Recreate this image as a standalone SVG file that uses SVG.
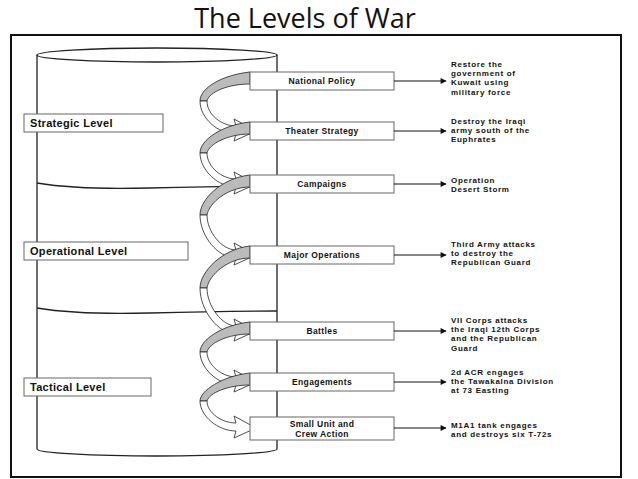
<svg xmlns="http://www.w3.org/2000/svg" width="638" height="479" viewBox="0 0 638 479">
<style>
.b{fill:#fff;stroke:#666;stroke-width:1}
.t{font-family:"Liberation Sans",Arial,sans-serif;font-weight:bold;font-size:8.5px;letter-spacing:0.4px;fill:#111;text-anchor:middle}
.l{font-family:"Liberation Sans",Arial,sans-serif;font-weight:bold;font-size:11px;letter-spacing:0.3px;fill:#111}
.r{font-family:"Liberation Sans",Arial,sans-serif;font-weight:bold;font-size:8px;letter-spacing:0.7px;fill:#111}
.c{fill:none;stroke:#222;stroke-width:1.3}
.g{fill:#bbb;stroke:#222;stroke-width:0.8}
.w{fill:#fff;stroke:#222;stroke-width:0.8}
.a{stroke:#111;stroke-width:1.2;marker-end:url(#m)}
</style>
<defs><marker id="m" viewBox="0 0 10 10" refX="9" refY="5" markerWidth="9" markerHeight="6" orient="auto" markerUnits="userSpaceOnUse"><path d="M0,0L10,5L0,10z" fill="#111"/></marker></defs>
<rect width="638" height="479" fill="#fff"/>
<text x="305" y="28" font-family="'Open Sans','Liberation Sans',sans-serif" font-size="27" text-anchor="middle" fill="#111">The Levels of War</text>
<rect x="11" y="35" width="610" height="442" fill="none" stroke="#111" stroke-width="2"/>
<g id="cylinder">
<ellipse cx="157" cy="55" rx="120" ry="7" class="c"/>
<path class="c" d="M37,55V449A120,7 0 0 0 277,449V55"/>
<path class="c" d="M37,183Q80,190 150,188T277,186" stroke-width="1"/>
<path class="c" d="M37,308Q80,315 150,313T277,311" stroke-width="1"/>
</g>
<g id="levels">
<g id="strategic"><rect class="b" x="24" y="114" width="139" height="18"/><text class="l" x="30" y="127">Strategic Level</text></g>
<g id="operational"><rect class="b" x="24" y="242" width="164" height="18"/><text class="l" x="30" y="255">Operational Level</text></g>
<g id="tactical"><rect class="b" x="24" y="378" width="127" height="18"/><text class="l" x="30" y="391">Tactical Level</text></g>
</g>
<g id="spiral">
<path class="g" d="M250,72C222,75 200,88 200,101L207,101C209,92 228,84 250,84Z"/>
<path class="w" d="M200,101C200,118 218,134 236,134L234,141L256,131L234,119L236,126C222,126 207,115 207,101Z"/>
<path class="g" d="M250,122C222,125 200,140 200,153L207,153C209,144 228,134 250,134Z"/>
<path class="w" d="M200,153C200,170 218,187 236,187L234,194L256,184L234,172L236,179C222,179 207,167 207,153Z"/>
<path class="g" d="M250,175C222,178 200,199 200,215L207,215C209,203 228,187 250,187Z"/>
<path class="w" d="M200,215C200,236 218,258 236,258L234,265L256,255L234,243L236,250C222,250 207,232 207,215Z"/>
<path class="g" d="M250,246C222,249 200,272 200,288L207,288C209,275 228,258 250,258Z"/>
<path class="w" d="M200,288C200,310 218,334 236,334L234,341L256,331L234,319L236,326C222,326 207,306 207,288Z"/>
<path class="g" d="M250,322C222,325 200,340 200,352L207,352C209,343 228,334 250,334Z"/>
<path class="w" d="M200,352C200,368 218,385 236,385L234,392L256,382L234,370L236,377C222,377 207,365 207,352Z"/>
<path class="g" d="M250,373C222,376 200,391 200,401L207,401C209,393 228,385 250,385Z"/>
<path class="w" d="M200,401C200,416 218,431 236,431L234,438L256,428L234,416L236,423C222,423 207,413 207,401Z"/>
</g>
<g id="n1"><rect class="b" x="250" y="72" width="144" height="18"/><text class="t" x="322" y="84">National Policy</text></g>
<g id="n2"><rect class="b" x="250" y="122" width="144" height="18"/><text class="t" x="322" y="134">Theater Strategy</text></g>
<g id="n3"><rect class="b" x="250" y="175" width="144" height="18"/><text class="t" x="322" y="187">Campaigns</text></g>
<g id="n4"><rect class="b" x="250" y="246" width="144" height="18"/><text class="t" x="322" y="258">Major Operations</text></g>
<g id="n5"><rect class="b" x="250" y="322" width="144" height="18"/><text class="t" x="322" y="334">Battles</text></g>
<g id="n6"><rect class="b" x="250" y="373" width="144" height="18"/><text class="t" x="322" y="385">Engagements</text></g>
<g id="n7"><rect class="b" x="250" y="417" width="144" height="23"/><text class="t" x="322" y="427">Small Unit and</text><text class="t" x="322" y="437">Crew Action</text></g>
<g id="connectors">
<line class="a" x1="394" y1="81" x2="446" y2="81"/>
<line class="a" x1="394" y1="131" x2="446" y2="131"/>
<line class="a" x1="394" y1="184" x2="446" y2="184"/>
<line class="a" x1="394" y1="255" x2="446" y2="255"/>
<line class="a" x1="394" y1="331" x2="446" y2="331"/>
<line class="a" x1="394" y1="382" x2="446" y2="382"/>
<line class="a" x1="394" y1="428" x2="446" y2="428"/>
</g>
<g id="results">
<text class="r"><tspan x="451" y="67">Restore the</tspan><tspan x="451" y="76.2">government of</tspan><tspan x="451" y="85.4">Kuwait using</tspan><tspan x="451" y="94.6">military force</tspan></text>
<text class="r"><tspan x="451" y="124">Destroy the Iraqi</tspan><tspan x="451" y="133.2">army south of the</tspan><tspan x="451" y="142.4">Euphrates</tspan></text>
<text class="r"><tspan x="451" y="183">Operation</tspan><tspan x="451" y="192.2">Desert Storm</tspan></text>
<text class="r"><tspan x="451" y="247">Third Army attacks</tspan><tspan x="451" y="256.2">to destroy the</tspan><tspan x="451" y="265.4">Republican Guard</tspan></text>
<text class="r"><tspan x="451" y="323">VII Corps attacks</tspan><tspan x="451" y="332.2">the Iraqi 12th Corps</tspan><tspan x="451" y="341.4">and the Republican</tspan><tspan x="451" y="350.6">Guard</tspan></text>
<text class="r"><tspan x="451" y="375">2d ACR engages</tspan><tspan x="451" y="384.2">the Tawakalna Division</tspan><tspan x="451" y="393.4">at 73 Easting</tspan></text>
<text class="r"><tspan x="451" y="428">M1A1 tank engages</tspan><tspan x="451" y="437.2">and destroys six T-72s</tspan></text>
</g>
</svg>
